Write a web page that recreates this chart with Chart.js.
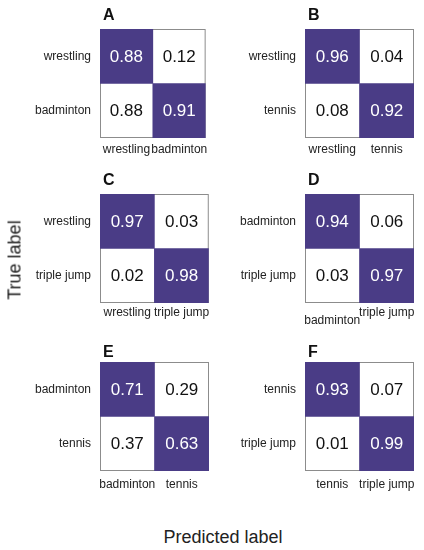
<!DOCTYPE html>
<html>
<head>
<meta charset="utf-8">
<script src="https://cdn.jsdelivr.net/npm/chart.js@4/dist/chart.umd.min.js"></script>
<style>
  html, body { margin: 0; padding: 0; background: #fff; }
  #wrap { position: relative; width: 424px; height: 550px; overflow: hidden; font-family: "Liberation Sans", Arial, sans-serif; }
  canvas { position: absolute; }
  .axis-title { position: absolute; font-size: 18px; color: #222; white-space: nowrap; }
</style>
</head>
<body>
<div id="wrap">
  <canvas id="pA" width="212" height="165" style="left:0;top:0"></canvas>
  <canvas id="pB" width="212" height="165" style="left:212px;top:0"></canvas>
  <canvas id="pC" width="212" height="165" style="left:0;top:165px"></canvas>
  <canvas id="pD" width="212" height="165" style="left:212px;top:165px"></canvas>
  <canvas id="pE" width="212" height="165" style="left:0;top:333px"></canvas>
  <canvas id="pF" width="212" height="165" style="left:212px;top:333px"></canvas>
  <div class="axis-title" style="left:15px;top:260px;transform:translate(-50%,-50%) rotate(-90deg)">True label</div>
  <div class="axis-title" style="left:223px;top:537px;transform:translate(-50%,-50%)">Predicted label</div>
</div>
<script>
// --- data: class names (rows = true, columns = predicted) and cell values ---
const classesA = ['wrestling', 'badminton'];
const valuesA = [[0.88, 0.12], [0.88, 0.91]];

const classesB = ['wrestling', 'tennis'];
const valuesB = [[0.96, 0.04], [0.08, 0.92]];

const classesC = ['wrestling', 'triple jump'];
const valuesC = [[0.97, 0.03], [0.02, 0.98]];

const classesD = ['badminton', 'triple jump'];
const valuesD = [[0.94, 0.06], [0.03, 0.97]];

const classesE = ['badminton', 'tennis'];
const valuesE = [[0.71, 0.29], [0.37, 0.63]];

const classesF = ['tennis', 'triple jump'];
const valuesF = [[0.93, 0.07], [0.01, 0.99]];

const PURPLE = '#4a3c86';
const FONT = '"Liberation Sans", Arial, sans-serif';

// box round the matrix (under the cells), numbers and panel letter (over them)
const cellPlugin = {
    id: 'cells',
    beforeDatasetsDraw(chart) {
        const { ctx, chartArea } = chart;
        ctx.save();
        ctx.strokeStyle = '#8c8c8c';
        ctx.lineWidth = 1;
        ctx.strokeRect(chartArea.left + 0.5, chartArea.top + 0.5,
            chartArea.right - chartArea.left - 1, chartArea.bottom - chartArea.top - 1);
        ctx.restore();
    },
    afterDatasetsDraw(chart, args, opts) {
        const { ctx, chartArea, scales } = chart;
        ctx.save();
        ctx.font = '17px ' + FONT;
        ctx.textAlign = 'center';
        ctx.textBaseline = 'middle';
        opts.values.forEach((row, i) => {
            row.forEach((v, j) => {
                ctx.fillStyle = i === j ? '#fff' : '#111';
                ctx.fillText(v.toFixed(2), scales.x.getPixelForValue(j), scales.y.getPixelForValue(i + 0.5) + 1);
            });
        });

        ctx.font = 'bold 16px ' + FONT;
        ctx.textAlign = 'left';
        ctx.textBaseline = 'alphabetic';
        ctx.fillStyle = '#111';
        ctx.fillText(opts.letter, chartArea.left + 3, chartArea.top - opts.letterGap);
        ctx.restore();
    }
};

function makePanel(id, letter, classes, values, o) {
    // one dataset per true-label row, each cell a floating bar spanning its row
    const datasets = classes.map((c, i) => ({
        label: c,
        data: classes.map(() => [i, i + 1]),
        backgroundColor: classes.map((_, j) => i === j ? PURPLE : 'rgba(255,255,255,0)'),
        borderWidth: 0,
        barPercentage: 1,
        categoryPercentage: 1
    }));

    new Chart(document.getElementById(id), {
        type: 'bar',
        data: { labels: classes, datasets },
        plugins: [cellPlugin],
        options: {
            responsive: false,
            animation: false,
            layout: { padding: { left: 0, right: o.right, top: 29, bottom: 0 } },
            scales: {
                x: {
                    stacked: true,
                    grid: { display: false, drawTicks: false },
                    border: { display: false },
                    afterFit: s => { s.height = 27; },
                    ticks: {
                        color: '#222',
                        padding: o.xPad,
                        maxRotation: 0,
                        autoSkip: false,
                        font: { family: FONT, size: 12, lineHeight: o.xLine || 1.2 },
                        callback: (v, idx) => (o.dropFirst && idx === 0) ? ['', classes[idx]] : classes[idx]
                    }
                },
                y: {
                    stacked: false,
                    min: 0,
                    max: classes.length,
                    reverse: true,
                    grid: { display: false, drawTicks: false },
                    border: { display: false },
                    afterFit: s => { s.width = o.yWidth; },
                    afterBuildTicks: s => { s.ticks = classes.map((c, i) => ({ value: i + 0.5 })); },
                    ticks: {
                        color: '#222',
                        padding: 9,
                        autoSkip: false,
                        font: { family: FONT, size: 12 },
                        callback: (v, idx) => classes[idx]
                    }
                }
            },
            plugins: {
                legend: { display: false },
                tooltip: { enabled: false },
                cells: { values, letter, letterGap: o.letterGap }
            }
        }
    });
}

makePanel('pA', 'A', classesA, valuesA, { yWidth: 100, right: 3, xPad: 4, letterGap: 9 });
makePanel('pB', 'B', classesB, valuesB, { yWidth: 93, right: 10, xPad: 4, letterGap: 9 });
makePanel('pC', 'C', classesC, valuesC, { yWidth: 100, right: 3, xPad: 2, letterGap: 9 });
makePanel('pD', 'D', classesD, valuesD, { yWidth: 93, right: 10, xPad: 5, xLine: 0.7, dropFirst: true, letterGap: 9 });
makePanel('pE', 'E', classesE, valuesE, { yWidth: 100, right: 3, xPad: 6, letterGap: 5 });
makePanel('pF', 'F', classesF, valuesF, { yWidth: 93, right: 10, xPad: 6, letterGap: 5 });
</script>
</body>
</html>
